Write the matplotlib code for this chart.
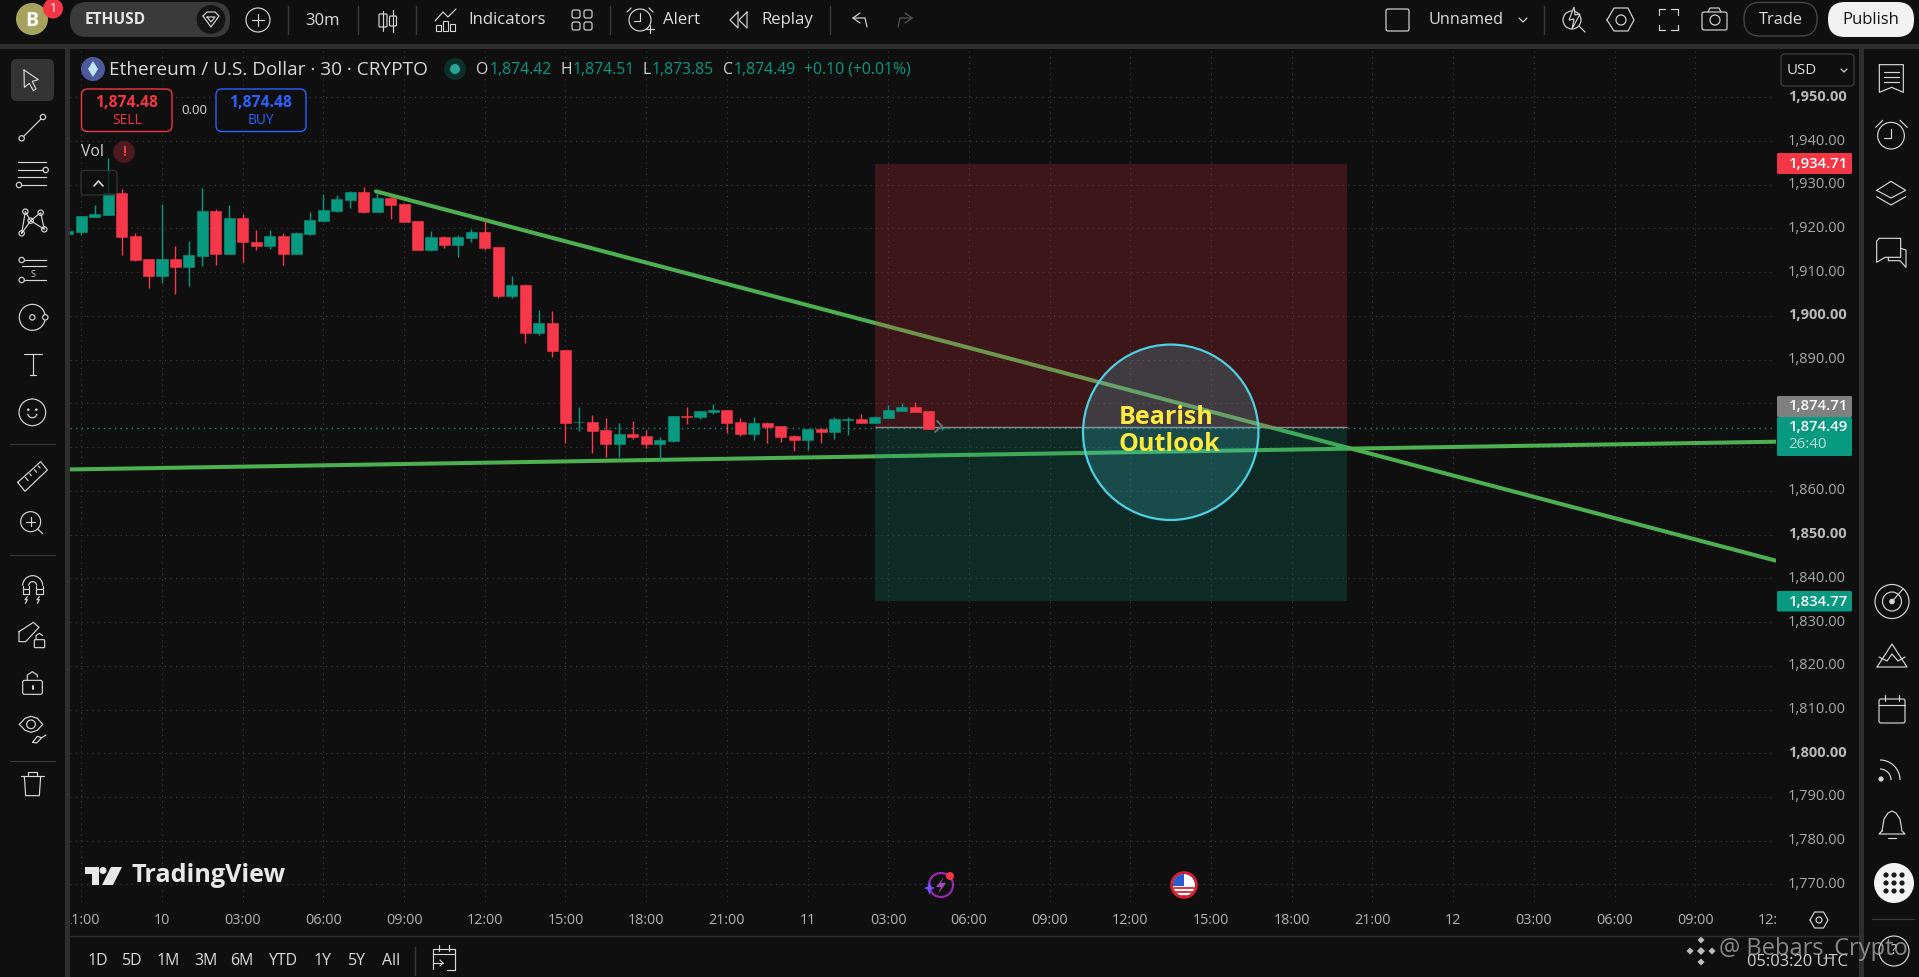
import numpy as np
import matplotlib
matplotlib.use("Agg")
import matplotlib.pyplot as plt
from matplotlib.patches import Circle, Ellipse, Rectangle, Polygon, FancyBboxPatch, Arc
from matplotlib.transforms import Bbox, ScaledTranslation

plt.rcParams['font.family'] = ['Open Sans', 'DejaVu Sans']

# candles, 30 minute bars, first one sits at index -1
opens = [1918.72, 1919.18, 1922.61, 1923.06, 1928.02, 1918.19, 1912.93, 1909.12, 1912.93, 1911.17,
         1913.69, 1923.90, 1914.15, 1922.30, 1916.81, 1915.98, 1918.19, 1914.15, 1918.72, 1921.69,
         1923.98, 1926.49, 1928.25, 1923.75, 1926.88, 1925.50, 1921.62, 1915.06, 1917.96, 1916.20,
         1917.80, 1919.10, 1915.67, 1904.60, 1907.11, 1896.16, 1898.44, 1892.28, 1875.78, 1875.76,
         1873.94, 1870.76, 1873.03, 1872.58, 1870.76, 1871.44, 1877.12, 1876.89, 1878.03, 1878.48,
         1875.76, 1873.03, 1875.53, 1874.85, 1872.58, 1871.67, 1874.17, 1873.48, 1876.29, 1876.44,
         1875.53, 1876.67, 1878.26, 1879.17, 1878.26, 1874.42]
highs = [1919.33, 1922.76, 1925.27, 1936.17, 1928.93, 1919.02, 1912.93, 1925.50, 1915.90, 1917.04,
         1929.16, 1924.51, 1925.27, 1923.22, 1919.56, 1919.56, 1919.02, 1919.10, 1923.67, 1927.87,
         1927.56, 1928.48, 1929.39, 1928.02, 1927.33, 1925.73, 1921.62, 1919.33, 1918.19, 1918.41,
         1919.79, 1921.84, 1915.67, 1909.16, 1907.34, 1901.41, 1901.18, 1892.28, 1879.28, 1877.35,
         1876.67, 1875.53, 1875.98, 1873.94, 1872.35, 1877.12, 1879.17, 1878.26, 1879.85, 1878.48,
         1876.67, 1876.89, 1875.76, 1874.85, 1872.80, 1874.17, 1874.39, 1876.89, 1876.89, 1877.58,
         1877.12, 1879.62, 1880.08, 1880.30, 1878.26, 1874.51]
lows = [1918.41, 1918.41, 1922.61, 1923.06, 1913.92, 1912.47, 1906.30, 1907.52, 1905.00, 1906.83,
        1911.40, 1911.63, 1914.15, 1912.39, 1915.06, 1915.29, 1911.63, 1914.15, 1918.49, 1921.69,
        1923.75, 1924.66, 1923.52, 1923.75, 1922.15, 1921.46, 1915.06, 1914.83, 1915.52, 1913.46,
        1916.89, 1915.14, 1904.09, 1904.14, 1893.88, 1895.70, 1890.68, 1870.84, 1873.80, 1868.71,
        1867.80, 1867.80, 1871.89, 1869.85, 1867.12, 1871.21, 1875.30, 1876.44, 1877.58, 1873.18,
        1872.58, 1871.67, 1870.98, 1871.21, 1869.17, 1869.39, 1870.98, 1871.89, 1872.80, 1875.53,
        1875.53, 1876.67, 1878.26, 1878.03, 1874.17, 1873.85]
closes = [1919.33, 1922.76, 1923.22, 1928.02, 1918.03, 1912.77, 1909.12, 1912.93, 1911.17, 1913.84,
          1923.90, 1914.15, 1922.30, 1916.89, 1915.98, 1918.19, 1914.15, 1918.87, 1921.84, 1924.13,
          1926.65, 1928.25, 1923.75, 1926.88, 1925.35, 1921.46, 1915.06, 1917.96, 1916.20, 1917.96,
          1919.10, 1915.52, 1904.54, 1907.11, 1896.16, 1898.44, 1892.05, 1875.63, 1875.83, 1873.71,
          1870.76, 1873.03, 1872.35, 1870.76, 1871.67, 1877.12, 1876.97, 1878.26, 1878.48, 1875.53,
          1873.03, 1875.53, 1874.62, 1872.35, 1871.67, 1874.17, 1873.48, 1876.44, 1876.44, 1875.53,
          1876.89, 1878.48, 1879.17, 1878.03, 1874.17, 1874.49]
bar_idx = np.arange(len(opens)) - 1

time_ticks = np.arange(0, 127, 6)
time_labels = ['21:00', '10', '03:00', '06:00', '09:00', '12:00', '15:00', '18:00', '21:00', '11',
               '03:00', '06:00', '09:00', '12:00', '15:00', '18:00', '21:00', '12', '03:00',
               '06:00', '09:00', '12:00']
price_ticks = list(range(1770, 1960, 10))
bold_prices = [1800, 1850, 1900, 1950]

# drawing tools on the chart: (bar index, price)
res_line_x = [21.91, 126.0]
res_line_y = [1928.5, 1844.03]
sup_line_x = [-0.84, 126.0]
sup_line_y = [1864.9, 1871.24]
box_x = [59.0, 94.1]
stop_price = 1934.71
entry_price = 1874.71
target_price = 1834.77
last_price = 1874.49

RED = '#f7374a'
GREEN = '#089981'
BG = '#0f0f0f'
SEP = '#2e2e2e'
ICON = '#d6d6d6'
TXT = '#dcdcdc'
LINE = '#4caf50'

fig = plt.figure(figsize=(19.19, 9.78), dpi=100, facecolor=BG)
ax = fig.add_axes([70/1919, 75/978, 1706/1919, 853/978], facecolor=BG)
ax.set_xlim(-0.84, 126.0)
ax.set_ylim(1765.99, 1961.04)
for s in ax.spines.values():
    s.set_visible(False)

ax.set_xticks(time_ticks)
ax.set_xticklabels(time_labels)
ax.yaxis.tick_right()
ax.set_yticks(price_ticks)
ax.set_yticklabels([f'{p:,.2f}' for p in price_ticks])
ax.tick_params(axis='x', length=0, pad=7, labelsize=10.4, labelcolor='#b4b4b4')
ax.tick_params(axis='y', length=0, pad=8.6, labelsize=10.5, labelcolor='#a8a8a8')
ax.grid(True, color='#3c3c3c', lw=0.8, linestyle=(0, (1, 4)), zorder=1)
ax.set_axisbelow(True)
# price labels sit a little above their grid line
up = ScaledTranslation(0, 3/100, fig.dpi_scale_trans)
for lab, p in zip(ax.get_yticklabels(), price_ticks):
    lab.set_transform(lab.get_transform() + up)
    if p in bold_prices:
        lab.set_fontweight('bold')
        lab.set_color('#b8b8b8')
for lab in ax.get_xticklabels():  # first and last time labels get cut at the chart edge
    lab.set_clip_on(True)
    lab.set_clip_box(Bbox([[71, 0], [1776, 978]]))

ax.axhline(last_price, color=GREEN, lw=1, linestyle=(0, (1, 3)), zorder=1.5)
ax.plot(res_line_x, res_line_y, color=LINE, lw=2.9, solid_capstyle='round', zorder=2)
ax.plot(sup_line_x, sup_line_y, color=LINE, lw=2.9, solid_capstyle='butt', zorder=2)

# long/short position boxes go over the trend lines
ax.add_patch(Rectangle((box_x[0], entry_price), box_x[1]-box_x[0], stop_price-entry_price,
                       fc='#f23645', alpha=0.2, lw=0, zorder=3))
ax.add_patch(Rectangle((box_x[0], target_price), box_x[1]-box_x[0], entry_price-target_price,
                       fc='#089981', alpha=0.2, lw=0, zorder=3))
ax.hlines(entry_price, box_x[0], box_x[1], color='#8a8a8a', lw=1, zorder=3.2)

for i, o, h, l, c in zip(bar_idx, opens, highs, lows, closes):
    col = GREEN if c >= o else RED
    ax.vlines(i, l, h, color=col, lw=1.0, zorder=4)
    ax.bar(i, abs(c-o), bottom=min(o, c), width=0.82, color=col, edgecolor=col, lw=0.4, zorder=4.1)

# circle note: 87.7 px radius turned into data units
ax.add_patch(Ellipse((81.0, 1873.4), 175.4/13.45, 175.4/4.373, fc='#4dd0e1', ec='none', alpha=0.2, zorder=5))
ax.add_patch(Ellipse((81.0, 1873.4), 175.4/13.45, 175.4/4.373, fc='none', ec='#4dd0e1', lw=1.6, zorder=5.1))

# everything else is screen furniture, drawn in pixels on top
ov = fig.add_axes([0, 0, 1, 1], zorder=10)
ov.set_xlim(0, 1919)
ov.set_ylim(978, 0)
ov.axis('off')


def txt(x, y, s, size=10, c=TXT, ha='left', va='center', weight='normal', **kw):
    return ov.text(x, y, s, fontsize=size, color=c, ha=ha, va=va, fontweight=weight, **kw)


def rbox(x0, y0, x1, y1, r=4, fc='none', ec='none', lw=1.0, alpha=None):
    ov.add_patch(FancyBboxPatch((x0, y0), x1-x0, y1-y0, boxstyle=f'round,pad=0,rounding_size={r}',
                                fc=fc, ec=ec, lw=lw, alpha=alpha))


def pl(pts, closed=False, c=ICON, lw=0.85, o=(0, 0), s=1.0):
    pts = [(o[0]+p[0]*s, o[1]+p[1]*s) for p in pts]
    if closed:
        pts = pts + [pts[0]]
    ov.plot([p[0] for p in pts], [p[1] for p in pts], color=c, lw=lw, solid_capstyle='round')


def ring(x, y, r, c=ICON, lw=0.85, fc='none', o=(0, 0), s=1.0):
    ov.add_patch(Circle((o[0]+x*s, o[1]+y*s), r*s, fc=fc, ec=c, lw=lw))


# panel separators
ov.add_patch(Rectangle((0, 45), 1919, 5, fc=SEP, lw=0))
ov.add_patch(Rectangle((65, 50), 5, 928, fc=SEP, lw=0))
ov.add_patch(Rectangle((1859, 50), 5, 928, fc=SEP, lw=0))
ov.plot([70, 1859], [937, 937], color=SEP, lw=1)

# top bar, left part
ring(32, 20, 16, c='none', fc='#a5a35e')
txt(32, 20.5, 'B', 14, c='white', ha='center', weight='bold')
ring(53, 9.5, 10, c='none', fc='#f23645')
txt(53, 9, '1', 9, c='white', ha='center')
rbox(70, 3, 230, 38, r=17, fc='#3a3a3a')
ring(211, 20.5, 15, c='#3a3a3a', fc='#141414')
pl([(203, 17), (207, 13), (215, 13), (219, 17), (211, 28)], closed=True)
pl([(207, 18), (215, 18), (211, 23)], closed=True)
txt(85, 20.5, 'ETHUSD', 11.2, c='#e6e6e6', weight='bold')
ring(258, 21, 12)
pl([(252, 21), (264, 21)])
pl([(258, 15), (258, 27)])
for sx in [288, 358, 416, 610, 830, 1543.6]:
    ov.plot([sx, sx], [7, 35], color='#3a3a3a', lw=1)
txt(323, 21, '30m', 12, ha='center')
pl([(383, 12), (383, 32)])
rbox(379, 15, 387, 28, r=1, ec=ICON, lw=0.85)
pl([(393, 11), (393, 33)])
rbox(389.5, 17, 396.5, 27, r=1, ec=ICON, fc=BG, lw=0.85)
pl([(435, 22), (443, 13), (448, 18), (456, 10)])
for bx, by in [(436, 26), (443, 22), (450, 25)]:
    ov.add_patch(Rectangle((bx, by), 5, 32-by, fc='none', ec=ICON, lw=0.8))
txt(468, 20.5, 'Indicators', 12.1)
for gx, gy in [(572, 11), (584, 11), (572, 23), (584, 23)]:
    rbox(gx, gy, gx+8, gy+8, r=2, ec=ICON, lw=0.85)
ring(640, 21, 11)
pl([(640, 14), (640, 22), (634, 22)])
pl([(631, 9), (627, 13)])
pl([(649, 9), (653, 13)])
pl([(646, 30), (654, 30)])
pl([(650, 26), (650, 34)])
txt(663, 20.5, 'Alert', 12.1)
pl([(738, 13), (730, 21), (738, 29)], closed=True)
pl([(747, 13), (739, 21), (747, 29)], closed=True)
txt(761, 20.5, 'Replay', 12.1)
pl([(853, 19), (860, 14)])
pl([(853, 19), (860, 24)])
pl([(853, 19), (865, 19), (867, 28)])
pl([(912, 19), (905, 14)], c='#555555')
pl([(912, 19), (905, 24)], c='#555555')
pl([(912, 19), (900, 19), (898, 28)], c='#555555')

# top bar, right part
rbox(1386, 10, 1409, 32, r=2, ec=ICON, lw=0.85)
txt(1428, 20.5, 'Unnamed', 11.7)
pl([(1519, 19), (1523, 23), (1527, 19)])
ring(1572, 21, 9)
ov.add_patch(Polygon([(1574, 8), (1569, 21), (1574, 20), (1572, 30), (1580, 15), (1575, 16)], fc=BG, ec=ICON, lw=0.8))
pl([(1579, 27), (1585, 33)])
pl([(1607, 21), (1614, 9), (1628, 9), (1634, 21), (1628, 32), (1614, 32)], closed=True)
ring(1621, 21, 5)
for a, b, d, e in [(1659, 16, 1659, 10), (1659, 10, 1665, 10), (1671, 10, 1678, 10), (1678, 10, 1678, 16),
                   (1659, 26, 1659, 31), (1659, 31, 1665, 31), (1671, 31, 1678, 31), (1678, 31, 1678, 26)]:
    pl([(a, b), (d, e)])
rbox(1702, 13, 1727, 31, r=2, ec=ICON, lw=0.85)
pl([(1708, 13), (1710, 9), (1719, 9), (1721, 13)])
ring(1715, 21, 5)
rbox(1744, 3.5, 1817, 37, r=16, ec='#444444')
txt(1780.5, 20.5, 'Trade', 11.8, ha='center')
rbox(1828, 3, 1914, 38, r=17, fc='#f2f2f2')
txt(1871, 20.5, 'Publish', 12, c='#131313', ha='center')

# symbol legend
ring(93, 70, 12, c='none', fc='#4c5a9c')
ov.add_patch(Polygon([(93, 62), (98, 70), (93, 78), (88, 70)], fc='#bfe4f5', lw=0))
txt(109, 70, 'Ethereum / U.S. Dollar · 30 · CRYPTO', 13.7, c='#d8d8d8')
ring(455, 70, 11, c='none', fc='#0c2f2b')
ring(455, 70, 5, c='none', fc='#26a69a')
for lx, vx, letter, val in [(476, 490, 'O', '1,874.42'), (560, 572.5, 'H', '1,874.51'),
                            (642, 652, 'L', '1,873.85'), (722.5, 734, 'C', '1,874.49')]:
    txt(lx, 70, letter, 11.3, c='#d1d1d1')
    txt(vx, 70, val, 11.3, c=GREEN)
txt(804, 70, '+0.10 (+0.01%)', 11.3, c=GREEN)
rbox(81.5, 90, 172, 132.5, r=6, ec='#f23645', fc=BG, lw=1.0)
txt(127, 103, '1,874.48', 11.3, c='#f23645', ha='center', weight='bold')
txt(127, 120, 'SELL', 9.9, c='#f23645', ha='center')
txt(194, 110, '0.00', 9.6, c='#d6d6d6', ha='center')
rbox(216, 90, 306, 132.5, r=6, ec='#2962ff', fc=BG, lw=1.0)
txt(261, 103, '1,874.48', 11.3, c='#2962ff', ha='center', weight='bold')
txt(261, 120, 'BUY', 9.9, c='#2962ff', ha='center')
txt(81, 152.5, 'Vol', 11.3, c='#d1d1d1')
ring(124, 153, 11, c='none', fc='#4a1a1e')
txt(124, 152.5, '!', 10, c='#f23645', ha='center', weight='bold')
rbox(81, 171.5, 117, 196, r=3, ec='#3a3a3a', fc=BG, alpha=0.75)
pl([(94, 187), (98.5, 182), (103, 187)], lw=1.2)

# price scale
rbox(1781, 55, 1854, 87, r=4, ec='#3a3a3a', fc=BG)
txt(1787, 71, 'USD', 10.8)
pl([(1841, 70), (1844, 73), (1847, 70)])
rbox(1777, 154, 1852, 175, r=1.5, fc='#f23645')
txt(1848, 163.5, f'{stop_price:,.2f}', 10.8, c='white', ha='right', weight='semibold')
rbox(1777, 397, 1852, 418, r=1.5, fc='#808080')
txt(1848, 406.5, f'{entry_price:,.2f}', 10.8, c='white', ha='right', weight='semibold')
rbox(1777, 418, 1852, 457, r=1.5, fc=GREEN)
txt(1848, 427, f'{last_price:,.2f}', 10.8, c='white', ha='right', weight='semibold')
txt(1788, 445, '26:40', 10.8, c='#b5e0d8')
rbox(1777, 592, 1852, 612.5, r=1.5, fc=GREEN)
txt(1848, 601.5, f'{target_price:,.2f}', 10.8, c='white', ha='right', weight='semibold')

# note text and replay marker
txt(1119, 417, 'Bearish', 18, c='#ffeb3b', weight='bold')
txt(1119, 444.5, 'Outlook', 18, c='#ffeb3b', weight='bold')
pl([(937, 422), (942, 427), (935, 433)], c='#6e6e6e', lw=1.4)

# left toolbar
rbox(11, 60, 54, 102, r=6, fc='#333333')
T1 = dict(o=(0, 50), s=1/3)
T2 = dict(o=(0, 450), s=1/3)
pl([(72, 63), (115, 92), (97, 97), (108, 120), (100, 125), (88, 103), (73, 115)], closed=True, **T1)
pl([(70, 263), (123, 210)], **T1)
ring(65, 268, 8, **T1)
ring(129, 204, 8, **T1)
pl([(55, 340), (138, 340)], **T1)
pl([(55, 363), (129, 363)], **T1)
pl([(55, 385), (138, 385)], **T1)
pl([(65, 408), (138, 408)], **T1)
ring(137, 363, 8, **T1)
ring(57, 408, 8, **T1)
xabcd = [(65, 553), (76, 488), (92, 515), (122, 491), (133, 541), (92, 515), (65, 553)]
pl(xabcd, **T1)
for px, py in xabcd[:5]:
    ring(px, py, 8, fc=BG, **T1)
pl([(73, 633), (138, 633)], **T1)
pl([(65, 652), (138, 652)], **T1)
pl([(73, 693), (138, 693)], **T1)
ring(65, 633, 8, **T1)
ring(65, 693, 8, **T1)
txt(33.5, 274.5, 'S', 6.5, c=ICON, ha='center')
ring(97, 805, 39, **T1)
ring(97, 805, 8, **T1)
ring(136, 805, 8, fc=BG, **T1)
pl([(72, 915), (127, 915)], **T1)
pl([(99, 915), (99, 978)], **T1)
pl([(90, 978), (108, 978)], **T1)
ring(97, 1090, 40, **T1)
ring(85, 1082, 2, fc=ICON, **T1)
ring(109, 1082, 2, fc=ICON, **T1)
ov.add_patch(Arc((97/3, 50+1092/3), 9.5, 9.5, theta1=10, theta2=170, color=ICON, lw=0.85))
pl([(30, 1186), (165, 1186)], c='#3a3a3a', **T1)
pl([(53, 100), (122, 38), (142, 63), (75, 127)], closed=True, **T2)
for (a, b), (d, e) in [((76, 85), (84, 95)), ((89, 74), (94, 80)), ((103, 62), (110, 70)), ((115, 51), (120, 57))]:
    pl([(a, b), (d, e)], **T2)
ring(92, 218, 30, **T2)
pl([(78, 218), (106, 218)], **T2)
pl([(92, 204), (92, 232)], **T2)
pl([(113, 240), (128, 254)], **T2)
pl([(30, 319), (165, 319)], c='#3a3a3a', **T2)
ov.add_patch(Arc((98/3, 450+410/3), 20, 20, theta1=180, theta2=360, color=ICON, lw=0.85))
ov.add_patch(Arc((98/3, 450+410/3), 8, 8, theta1=180, theta2=360, color=ICON, lw=0.85))
pl([(68, 410), (68, 435), (88, 435), (88, 410)], **T2)
pl([(108, 410), (108, 435), (128, 435), (128, 410)], **T2)
pl([(68, 421), (88, 421)], **T2)
pl([(108, 421), (128, 421)], **T2)
pl([(82, 443), (75, 452), (82, 452), (76, 463)], **T2)
pl([(118, 443), (111, 452), (118, 452), (112, 463)], **T2)
pl([(57, 548), (100, 520), (117, 535), (77, 578), (57, 578)], closed=True, **T2)
rbox(103/3, 450+572/3, 134/3, 450+596/3, r=1, ec=ICON, lw=0.85)
pl([(108, 572), (108, 560), (118, 553), (128, 560)], **T2)
rbox(68/3, 450+694/3, 127/3, 450+736/3, r=2, ec=ICON, lw=0.85)
pl([(82, 694), (82, 678), (97, 668), (112, 678), (112, 684)], **T2)
pl([(98, 710), (98, 720)], lw=1.4, **T2)
pl([(58, 826), (75, 808), (93, 802), (112, 808), (128, 826), (112, 844), (93, 850), (75, 844)], closed=True, **T2)
ring(93, 826, 13, **T2)
pl([(98, 880), (112, 862), (125, 866), (110, 882)], closed=True, **T2)
pl([(125, 866), (138, 858)], **T2)
pl([(30, 937), (165, 937)], c='#3a3a3a', **T2)
pl([(64, 982), (131, 982)], **T2)
pl([(84, 982), (84, 970), (112, 970), (112, 982)], **T2)
pl([(73, 982), (77, 1040), (118, 1040), (122, 982)], **T2)

# right toolbar
R1 = dict(o=(1860, 50), s=1/3)
pl([(58, 47), (130, 47), (130, 130), (95, 115), (58, 130)], closed=True, **R1)
for ly in [68, 83, 98]:
    pl([(72, ly), (117, ly)], **R1)
ring(93, 260, 40, **R1)
pl([(93, 240), (93, 268), (72, 268)], **R1)
pl([(47, 235), (68, 214)], **R1)
pl([(120, 214), (142, 235)], **R1)
pl([(50, 424), (93, 397), (137, 424), (93, 447)], closed=True, **R1)
pl([(50, 443), (93, 468), (137, 443)], **R1)
pl([(85, 625), (85, 635), (120, 635), (138, 655), (138, 603), (122, 598)], **R1)
pl([(58, 568), (122, 568), (122, 625), (75, 625), (50, 640), (50, 576)], closed=True, **R1)
ring(1892, 602.5, 17)
ring(1892, 602.5, 9.5)
ring(1892, 602.5, 2.2, fc=ICON)
pl([(1892, 602.5), (1903, 590)])
pl([(1877, 668), (1892, 645), (1907, 668)], closed=True)
pl([(1879, 658), (1887, 662), (1892, 655), (1898, 662), (1905, 658)])
rbox(1879, 700, 1905, 724, r=2, ec=ICON, lw=0.85)
pl([(1879, 706), (1905, 706)])
pl([(1885, 696), (1885, 702)])
pl([(1899, 696), (1899, 702)])
ring(1881, 780, 2, fc=ICON)
ov.add_patch(Arc((1880, 781), 22, 22, theta1=270, theta2=360, color=ICON, lw=0.85))
ov.add_patch(Arc((1880, 781), 40, 40, theta1=270, theta2=360, color=ICON, lw=0.85))
pl([(1882, 832), (1884, 820), (1888, 814), (1892, 812), (1896, 814), (1900, 820), (1902, 832), (1905, 835), (1879, 835)], closed=True)
pl([(1888, 839), (1896, 839)])
ring(1894, 884, 20, c='none', fc='#f4f4f4')
for dx in [-8, 0, 8]:
    for dy in [-8, 0, 8]:
        ring(1894+dx, 884+dy, 2.6, c='none', fc='#1a1a1a')
pl([(1872, 920), (1914, 920)], c='#3a3a3a')
ring(1894, 952, 15)
txt(1894, 951, '?', 10, c=ICON, ha='center')

# time scale button
pl([(1810, 921), (1814.5, 913), (1823.5, 913), (1828, 921), (1823.5, 929), (1814.5, 929)], closed=True)
ring(1819, 921, 3)

# bottom range bar
for rx, lbl in zip([97.5, 132.5, 168.5, 205.5, 241.5, 282.5, 322.5, 356.5, 391.5],
                   ['1D', '5D', '1M', '3M', '6M', 'YTD', '1Y', '5Y', 'All']):
    txt(rx, 961, lbl, 11.4, ha='center')
ov.plot([415, 415], [948, 976], color='#3a3a3a', lw=1)
pl([(433, 970), (433, 950), (455, 950), (455, 971), (447, 971)])
pl([(433, 955), (455, 955)])
pl([(439, 946), (439, 952)])
pl([(449, 946), (449, 952)])
pl([(433, 964), (443, 964)])
pl([(440, 961), (443, 964), (440, 967)])

# logo
ov.add_patch(Polygon([(84.5, 868), (99, 868), (99, 886), (91.5, 886), (91.5, 875), (84.5, 875)], fc='#e8e8e8', lw=0))
ring(103, 871.5, 3.5, c='none', fc='#e8e8e8')
ov.add_patch(Polygon([(111, 868), (122, 868), (113, 886), (102, 886)], fc='#e8e8e8', lw=0))
txt(131, 876, 'TradingView', 18.2, c='#e8e8e8', weight='bold')

# event icons on the time line
ring(941, 886, 12, c='#9c27b0', lw=1.6)
ov.add_patch(Polygon([(944, 878), (936, 888), (941, 888), (938, 895), (946, 884), (941, 884)], fc='#ab47bc', lw=0))
ov.add_patch(Polygon([(924, 889), (929.5, 887), (935, 889), (929.5, 891.5)], fc='#7c4dff', lw=0))
ov.add_patch(Polygon([(929.5, 883), (932, 889), (929.5, 896), (927, 889)], fc='#7c4dff', lw=0))
ring(950, 877, 4, c='none', fc='#f23645')
flag = Circle((1184, 886), 11, fc='white', ec='none')
ov.add_patch(flag)
for fy in [888, 892, 896]:
    st = Rectangle((1170, fy), 28, 2, fc='#e53945', lw=0)
    ov.add_patch(st)
    st.set_clip_path(flag)
blue = Rectangle((1170, 874), 14, 13, fc='#2a5bd0', lw=0)
ov.add_patch(blue)
blue.set_clip_path(flag)
ring(1184, 886, 12.5, c='#e0202f', lw=1.8)

# watermark and clock
for cx, cy, r in [(1701, 952, 4), (1701, 941, 3.5), (1701, 963, 3.5), (1690, 952, 3.5), (1712, 952, 3.5)]:
    ov.add_patch(Polygon([(cx, cy-r), (cx+r, cy), (cx, cy+r), (cx-r, cy)], fc='#bdbdbd', lw=0))
txt(1848, 962, '05:03:20 UTC', 11.8, c='#d0d0d0', ha='right')
txt(1719, 949, '@ Bebars_Crypto', 17, c='#b0b0b0', alpha=0.75)

fig.savefig('out.png', dpi=100, facecolor=BG)
